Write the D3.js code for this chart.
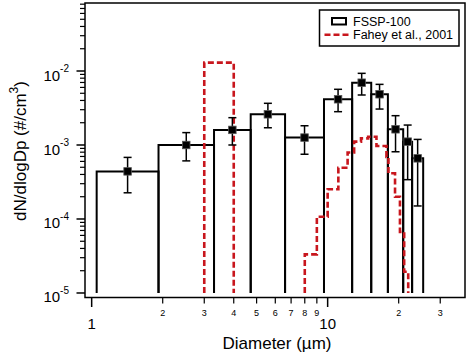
<!DOCTYPE html>
<html>
<head>
<meta charset="utf-8">
<script src="https://cdn.jsdelivr.net/npm/d3@7"></script>
<style>
  html, body { margin: 0; padding: 0; background: #fff; }
  svg { display: block; font-family: "Liberation Sans", Arial, Helvetica, sans-serif; }
</style>
</head>
<body>
<svg id="chart" width="474" height="353"></svg>
<script>
// ---- data ----
const fsspEdges   = [1.05, 1.92, 3.30, 4.72, 6.60, 9.65, 12.7, 15.3, 18.0, 20.9, 22.8, 25.4];
const fsspValues  = [4.4e-4, 1.0e-3, 1.6e-3, 2.6e-3, 1.26e-3, 4.15e-3, 6.95e-3, 4.85e-3, 1.63e-3, 1.11e-3, 6.6e-4];
const fsspErrHigh = [6.8e-4, 1.47e-3, 2.34e-3, 3.66e-3, 1.82e-3, 5.66e-3, 9.3e-3, 6.6e-3, 2.49e-3, 1.86e-3, 1.19e-3];
const fsspErrLow  = [2.26e-4, 6.1e-4, 1.0e-3, 1.71e-3, 7.5e-4, 2.82e-3, 4.74e-3, 3.06e-3, 8.1e-4, 3.4e-4, 1.5e-4];

const faheyEdgesA  = [3.0, 4.0];
const faheyValuesA = [1.3e-2];
const faheyEdgesB  = [8.0, 9.0, 10.0, 11.1, 12.15, 12.95, 13.85, 14.85, 16.1, 17.75, 18.1, 19.3, 20.25, 21.1, 21.95];
const faheyValuesB = [3.33e-5, 1.07e-4, 2.52e-4, 4.93e-4, 7.92e-4, 1.11e-3, 1.23e-3, 1.29e-3, 9.7e-4, 6.9e-4, 4.15e-4, 2.0e-4, 6.7e-5, 1.94e-5];

const baseValue = 1e-5;
const xMajorTicks = [1, 10];
const xMinorTicks = [2, 3, 4, 5, 6, 7, 8, 9, 20, 30];
const xMinorLabels = ["2", "3", "4", "5", "6", "7", "8", "9", "2", "3"];
const yMajorExps = [-5, -4, -3, -2];

const legendLabels = ["FSSP-100", "Fahey et al., 2001"];

// ---- layout ----
const L = 85, R = 465, T = 3, B = 297.5;
const red = "#c8161d";

const svg = d3.select("#chart");
const x = d3.scaleLog().domain([0.937, 38.2]).range([L, R]);
const y = d3.scaleLog().domain([8.69e-6, 0.083]).range([B, T]);

// frame
svg.append("rect").attr("x", L).attr("y", T).attr("width", R - L).attr("height", B - T)
  .attr("fill", "none").attr("stroke", "#000").attr("stroke-width", 1.5);

// y ticks
const yMinor = [];
yMajorExps.concat([-1]).forEach(e => {
  for (let m = 2; m <= 9; m++) {
    const v = m * Math.pow(10, e - 1);
    if (v >= 1e-5 && v <= y.domain()[1]) yMinor.push(v);
  }
});
svg.append("g").selectAll("line").data(yMinor).join("line")
  .attr("x1", L - 5).attr("x2", L).attr("y1", d => y(d)).attr("y2", d => y(d))
  .attr("stroke", "#000").attr("stroke-width", 1.2);
svg.append("g").selectAll("line").data(yMajorExps).join("line")
  .attr("x1", L - 8.5).attr("x2", L).attr("y1", d => y(Math.pow(10, d))).attr("y2", d => y(Math.pow(10, d)))
  .attr("stroke", "#000").attr("stroke-width", 1.5);
const ylab = svg.append("g").selectAll("text").data(yMajorExps).join("text")
  .attr("x", 69).attr("y", d => y(Math.pow(10, d)) + 9.5)
  .attr("text-anchor", "end").attr("font-size", 15).attr("fill", "#000");
ylab.append("tspan").text("10");
ylab.append("tspan").attr("dy", -8.5).attr("font-size", 10).text(d => String(d));

// x ticks
svg.append("g").selectAll("line").data(xMinorTicks).join("line")
  .attr("x1", d => x(d)).attr("x2", d => x(d)).attr("y1", B).attr("y2", B + 6)
  .attr("stroke", "#000").attr("stroke-width", 1.2);
svg.append("g").selectAll("line").data(xMajorTicks).join("line")
  .attr("x1", d => x(d)).attr("x2", d => x(d)).attr("y1", B).attr("y2", B + 9.5)
  .attr("stroke", "#000").attr("stroke-width", 1.5);
svg.append("g").selectAll("text").data(xMinorTicks).join("text")
  .attr("x", d => x(d)).attr("y", 315.5).attr("text-anchor", "middle")
  .attr("font-size", 9).text((d, i) => xMinorLabels[i]);
svg.append("g").selectAll("text").data(xMajorTicks).join("text")
  .attr("x", d => x(d)).attr("y", 329).attr("text-anchor", "middle")
  .attr("font-size", 15).text(d => String(d));

// axis titles
svg.append("text").attr("x", 277).attr("y", 348.5).attr("text-anchor", "middle")
  .attr("font-size", 17).text("Diameter (µm)");
const yt = svg.append("text").attr("transform", "translate(25.5,151) rotate(-90)")
  .attr("text-anchor", "middle").attr("font-size", 17);
yt.append("tspan").text("dN/dlogDp (#/cm");
yt.append("tspan").attr("dy", -8).attr("font-size", 12).text("3");
yt.append("tspan").attr("dy", 8).text(")");

// FSSP bars (outline histogram)
const bars = svg.append("g");
fsspValues.forEach((v, i) => {
  const x0 = x(fsspEdges[i]), x1 = x(fsspEdges[i + 1]);
  bars.append("path")
    .attr("d", `M${x0},${y(baseValue)}V${y(v)}H${x1}V${y(baseValue)}`)
    .attr("fill", "none").attr("stroke", "#000").attr("stroke-width", 2);
});

// Fahey step curves
function stepPath(edges, vals) {
  let d = `M${x(edges[0])},${y(baseValue)}`;
  vals.forEach((v, i) => {
    d += `V${y(v)}H${x(edges[i + 1])}`;
  });
  d += `V${y(baseValue)}`;
  return d;
}
[[faheyEdgesA, faheyValuesA], [faheyEdgesB, faheyValuesB]].forEach(([e, v]) => {
  svg.append("path").attr("d", stepPath(e, v))
    .attr("fill", "none").attr("stroke", red).attr("stroke-width", 2.6)
    .attr("stroke-dasharray", "6,3");
});

// error bars and markers
const centers = fsspValues.map((v, i) => Math.sqrt(fsspEdges[i] * fsspEdges[i + 1]));
const eb = svg.append("g").attr("stroke", "#000").attr("stroke-width", 1.5);
fsspValues.forEach((v, i) => {
  const cx = x(centers[i]);
  eb.append("line").attr("x1", cx).attr("x2", cx).attr("y1", y(fsspErrHigh[i])).attr("y2", y(fsspErrLow[i]));
  eb.append("line").attr("x1", cx - 4).attr("x2", cx + 4).attr("y1", y(fsspErrHigh[i])).attr("y2", y(fsspErrHigh[i]));
  eb.append("line").attr("x1", cx - 4).attr("x2", cx + 4).attr("y1", y(fsspErrLow[i])).attr("y2", y(fsspErrLow[i]));
});
svg.append("g").selectAll("rect").data(fsspValues).join("rect")
  .attr("x", (d, i) => x(centers[i]) - 3.75).attr("y", d => y(d) - 3.75)
  .attr("width", 7.5).attr("height", 7.5).attr("fill", "#000")
  .attr("stroke", "#555").attr("stroke-width", 0.8);

// legend
const lg = svg.append("g");
lg.append("rect").attr("x", 319.5).attr("y", 10).attr("width", 139.5).attr("height", 36)
  .attr("fill", "#fff").attr("stroke", "#000").attr("stroke-width", 1.5);
lg.append("rect").attr("x", 332).attr("y", 18).attr("width", 14).attr("height", 6.5)
  .attr("fill", "#fff").attr("stroke", "#000").attr("stroke-width", 2);
lg.append("line").attr("x1", 324.5).attr("x2", 348.5).attr("y1", 34.8).attr("y2", 34.8)
  .attr("stroke", red).attr("stroke-width", 2.6).attr("stroke-dasharray", "6,3");
lg.append("text").attr("x", 353).attr("y", 25.6).attr("font-size", 12.5).text(legendLabels[0]);
lg.append("text").attr("x", 353).attr("y", 39.4).attr("font-size", 12.5).text(legendLabels[1]);
</script>
</body>
</html>
